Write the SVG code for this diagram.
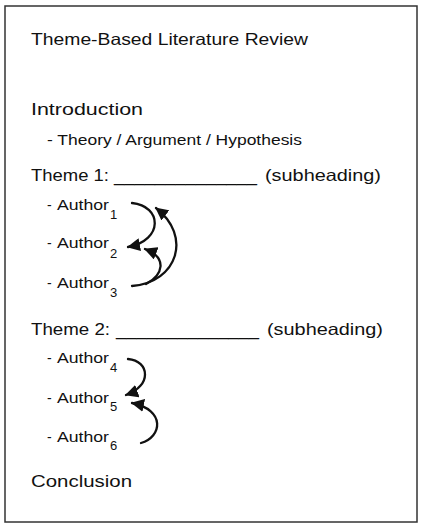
<svg xmlns="http://www.w3.org/2000/svg" width="425" height="531" viewBox="0 0 425 531">
<defs>
<style>
text{font-family:"Liberation Sans","DejaVu Sans",sans-serif;fill:#111}
.h{font-size:16.5px}
.t{font-size:15px}
.a{font-size:14px}
.s{font-size:13px}
.c{fill:none;stroke:#111;stroke-width:2.3;stroke-linecap:round}
</style>
<marker id="ah" markerUnits="userSpaceOnUse" markerWidth="13" markerHeight="13" viewBox="0 0 13 13" refX="12" refY="6.5" orient="auto">
<path d="M0,0 L13,6.5 L0,13 z" fill="#111"/>
</marker>
</defs>
<rect x="5" y="6" width="412" height="516" fill="#fff" stroke="#333" stroke-width="1.5"/>
<g id="title"><text class="h" x="31" y="45" textLength="277" lengthAdjust="spacingAndGlyphs">Theme-Based Literature Review</text></g>
<g id="intro"><text class="h" x="31" y="115" textLength="112" lengthAdjust="spacingAndGlyphs">Introduction</text></g>
<g id="theory"><text class="t" x="47" y="145" textLength="255" lengthAdjust="spacingAndGlyphs">- Theory / Argument / Hypothesis</text></g>
<g id="theme1">
<text class="h" x="31" y="181" textLength="78" lengthAdjust="spacingAndGlyphs">Theme 1:</text>
<text class="h" x="114" y="182" textLength="143" lengthAdjust="spacingAndGlyphs">______________</text>
<text class="h" x="265" y="181" textLength="116" lengthAdjust="spacingAndGlyphs">(subheading)</text>
</g>
<g id="author1"><text class="a" x="47" y="210">-</text><text class="a" x="57" y="210" textLength="52" lengthAdjust="spacingAndGlyphs">Author</text><text class="s" x="110" y="219">1</text></g>
<g id="author2"><text class="a" x="47" y="248">-</text><text class="a" x="57" y="248" textLength="52" lengthAdjust="spacingAndGlyphs">Author</text><text class="s" x="110" y="258">2</text></g>
<g id="author3"><text class="a" x="47" y="288">-</text><text class="a" x="57" y="288" textLength="52" lengthAdjust="spacingAndGlyphs">Author</text><text class="s" x="110" y="297">3</text></g>
<g id="theme2">
<text class="h" x="31" y="335" textLength="79" lengthAdjust="spacingAndGlyphs">Theme 2:</text>
<text class="h" x="116" y="336" textLength="143" lengthAdjust="spacingAndGlyphs">______________</text>
<text class="h" x="267" y="335" textLength="116" lengthAdjust="spacingAndGlyphs">(subheading)</text>
</g>
<g id="author4"><text class="a" x="47" y="363">-</text><text class="a" x="57" y="363" textLength="52" lengthAdjust="spacingAndGlyphs">Author</text><text class="s" x="110" y="372">4</text></g>
<g id="author5"><text class="a" x="47" y="403">-</text><text class="a" x="57" y="403" textLength="52" lengthAdjust="spacingAndGlyphs">Author</text><text class="s" x="110" y="411">5</text></g>
<g id="author6"><text class="a" x="47" y="442">-</text><text class="a" x="57" y="442" textLength="52" lengthAdjust="spacingAndGlyphs">Author</text><text class="s" x="110" y="450">6</text></g>
<g id="conclusion"><text class="h" x="31" y="487" textLength="101" lengthAdjust="spacingAndGlyphs">Conclusion</text></g>
<g id="connectors">
<path class="c" d="M132,203 C162,206 164,240 128,247" marker-end="url(#ah)"/>
<path class="c" d="M132,286 C178,282 192,236 156,208" marker-end="url(#ah)"/>
<path class="c" d="M146,284 C163,275 168,258 145,249" marker-end="url(#ah)"/>
<path class="c" d="M128,359 C150,361 152,386 126,395" marker-end="url(#ah)"/>
<path class="c" d="M141,443 C162,437 166,410 132,403" marker-end="url(#ah)"/>
</g>
</svg>
